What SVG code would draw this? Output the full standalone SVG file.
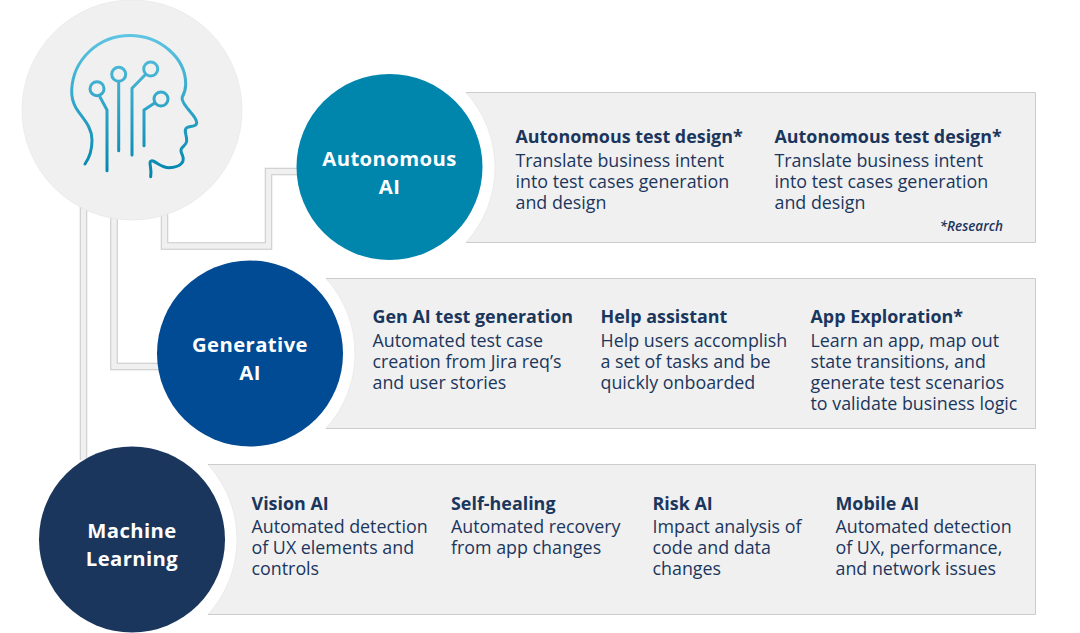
<svg xmlns="http://www.w3.org/2000/svg" width="1080" height="633" viewBox="0 0 1080 633">
<style>
text{font-family:"Open Sans","Noto Sans",sans-serif}
.h{font-size:17.9px;font-weight:700;fill:#1b365d}
.b{font-size:17.85px;fill:#1b365d}
.c{font-size:20.3px;font-weight:700;fill:#fff;text-anchor:middle;letter-spacing:.4px}
.fill{fill:#f0f0f0;stroke:#e2e2e2;stroke-width:.6}
.edge{fill:none;stroke:#ccc;stroke-width:1}
.co{fill:none;stroke:#c9c9c9;stroke-width:7.5}
.ci{fill:none;stroke:#f0f0f0;stroke-width:5.5}
.ic{fill:none;stroke:url(#g);stroke-width:3;stroke-linecap:round;stroke-linejoin:round}
</style>
<defs>
<linearGradient id="g" gradientUnits="userSpaceOnUse" x1="0" y1="35" x2="0" y2="177">
<stop offset="0" stop-color="#5ec5e2"/><stop offset="1" stop-color="#0085ad"/>
</linearGradient>
</defs>
<g id="connectors">
<path class="co" d="M83.500 200V460"/><path class="ci" d="M83.500 200V460"/>
<path class="co" d="M114 200V366.500H170"/><path class="ci" d="M114 200V366.500H170"/>
<path class="co" d="M164.500 200V246H268.500V171.500H310"/><path class="ci" d="M164.500 200V246H268.500V171.500H310"/>
</g>
<g id="head">
<circle cx="132" cy="110" r="110" fill="#f0f0f0" stroke="#e6e6e6" stroke-width=".7"/>
<path class="ic" d="M85 164C90 157 92 148 92 140C92 126 82 118 76 108C72 101 71.500 96 71.700 90C73 60 98 35.500 130 35.500C160 35.500 185.700 58 185.700 84C185.700 90 184 94 182.300 97C181 101 185 105 188 109C191 113 196.700 118 196.700 122.700C196.700 127 190 126 187 127.500C183 130 187 135 186.700 141C186.500 146 180 147 181 151C181.500 155 184.500 157 183 161C181 166 174 167.700 169 167.700C162 167.700 158 163 153 161C149 160 150 164 150.500 167C151 170 151 174 150.700 176.700"/>
<path class="ic" d="M100 97L107 110V170.700M118.700 82V150.700M145 75L132 88.300V155M154.300 103.300L144 110V145.700"/>
<circle class="ic" cx="97" cy="88.700" r="7"/><circle class="ic" cx="118.700" cy="74.300" r="7"/><circle class="ic" cx="150.700" cy="69" r="7"/><circle class="ic" cx="161" cy="99" r="7"/>
</g>
<g id="autonomous">
<path class="fill" d="M466 92.500H1035.500V242.500H466A111.500 111.500 0 0 0 466 92.500Z"/>
<path class="edge" d="M466 92.500H1035.500V242.500H466"/>
<circle cx="389.500" cy="167" r="93" fill="#0085ad"/>
<text class="c" x="389.500" y="165.500">Autonomous</text><text class="c" x="389.500" y="194">AI</text>
<text class="h" x="515.500" y="143">Autonomous test design*</text>
<text class="b" x="515.500" y="167">Translate business intent</text><text class="b" x="515.500" y="188">into test cases generation</text><text class="b" x="515.500" y="209">and design</text>
<text class="h" x="774.500" y="143">Autonomous test design*</text>
<text class="b" x="774.500" y="167">Translate business intent</text><text class="b" x="774.500" y="188">into test cases generation</text><text class="b" x="774.500" y="209">and design</text>
<text x="1003" y="231" text-anchor="end" font-size="13.500" font-style="italic" font-weight="600" fill="#1b365d">*Research</text>
</g>
<g id="generative">
<path class="fill" d="M326 278.500H1035.500V428.500H326A111.500 111.500 0 0 0 326 278.500Z"/>
<path class="edge" d="M326 278.500H1035.500V428.500H326"/>
<circle cx="250" cy="353.500" r="93" fill="#004b93"/>
<text class="c" x="250" y="351.500">Generative</text><text class="c" x="250" y="380">AI</text>
<text class="h" x="372.500" y="323">Gen AI test generation</text>
<text class="b" x="372.500" y="347">Automated test case</text><text class="b" x="372.500" y="368">creation from Jira req’s</text><text class="b" x="372.500" y="389">and user stories</text>
<text class="h" x="600.500" y="323">Help assistant</text>
<text class="b" x="600.500" y="347">Help users accomplish</text><text class="b" x="600.500" y="368">a set of tasks and be</text><text class="b" x="600.500" y="389">quickly onboarded</text>
<text class="h" x="810.500" y="323">App Exploration*</text>
<text class="b" x="810.500" y="347">Learn an app, map out</text><text class="b" x="810.500" y="368">state transitions, and</text><text class="b" x="810.500" y="389">generate test scenarios</text><text class="b" x="810.500" y="410">to validate business logic</text>
</g>
<g id="machine-learning">
<path class="fill" d="M208 464.500H1035.500V614.500H208A111.500 111.500 0 0 0 208 464.500Z"/>
<path class="edge" d="M208 464.500H1035.500V614.500H208"/>
<circle cx="132" cy="539.500" r="93" fill="#1b365d"/>
<text class="c" x="132" y="537.500">Machine</text><text class="c" x="132" y="566">Learning</text>
<text class="h" x="251.500" y="509.500">Vision AI</text>
<text class="b" x="251.500" y="533">Automated detection</text><text class="b" x="251.500" y="554">of UX elements and</text><text class="b" x="251.500" y="575">controls</text>
<text class="h" x="451" y="509.500">Self-healing</text>
<text class="b" x="451" y="533">Automated recovery</text><text class="b" x="451" y="554">from app changes</text>
<text class="h" x="652.500" y="509.500">Risk AI</text>
<text class="b" x="652.500" y="533">Impact analysis of</text><text class="b" x="652.500" y="554">code and data</text><text class="b" x="652.500" y="575">changes</text>
<text class="h" x="835.500" y="509.500">Mobile AI</text>
<text class="b" x="835.500" y="533">Automated detection</text><text class="b" x="835.500" y="554">of UX, performance,</text><text class="b" x="835.500" y="575">and network issues</text>
</g>
</svg>
